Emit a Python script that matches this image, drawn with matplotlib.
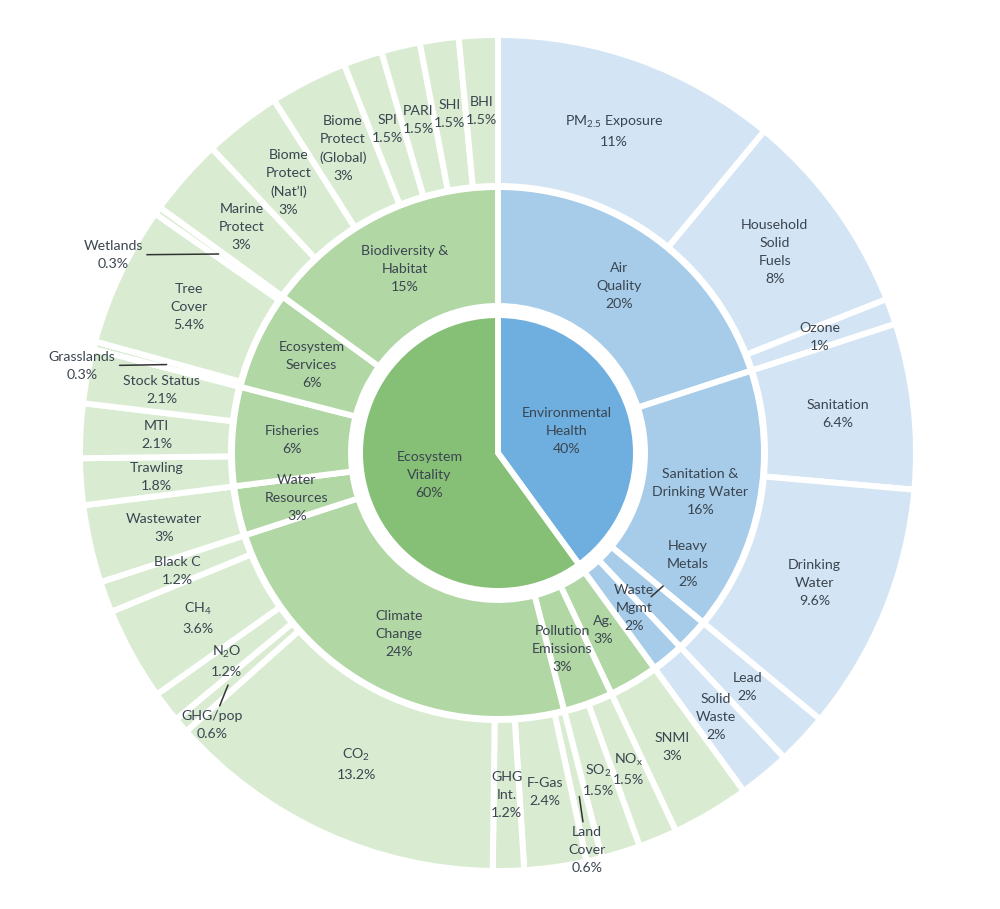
import matplotlib.pyplot as plt
import numpy as np

plt.rcParams['font.family'] = ['Lato', 'DejaVu Sans']
plt.rcParams['mathtext.default'] = 'regular'

# inner ring: policy objectives
objectives = ['Environmental\nHealth', 'Ecosystem\nVitality']
objective_weights = [40, 60]

# middle ring: issue categories
issues = ['Air\nQuality', 'Sanitation &\nDrinking Water', 'Heavy\nMetals', 'Waste\nMgmt',
          'Ag.', 'Pollution\nEmissions', 'Climate\nChange', 'Water\nResources',
          'Fisheries', 'Ecosystem\nServices', 'Biodiversity &\nHabitat']
issue_weights = [20, 16, 2, 2, 3, 3, 24, 3, 6, 6, 15]
issue_group = [0, 0, 0, 0, 1, 1, 1, 1, 1, 1, 1]

# outer ring: indicators
indicators = ['PM$_{2.5}$ Exposure', 'Household\nSolid\nFuels', 'Ozone', 'Sanitation',
              'Drinking\nWater', 'Lead', 'Solid\nWaste', 'SNMI', 'NO$_x$', 'SO$_2$',
              'Land\nCover', 'F-Gas', 'GHG\nInt.', 'CO$_2$', 'GHG/pop', 'N$_2$O', 'CH$_4$',
              'Black C', 'Wastewater', 'Trawling', 'MTI', 'Stock Status', 'Grasslands',
              'Tree\nCover', 'Wetlands', 'Marine\nProtect', 'Biome\nProtect\n(Nat\u2019l)',
              'Biome\nProtect\n(Global)', 'SPI', 'PARI', 'SHI', 'BHI']
indicator_weights = [11, 8, 1, 6.4, 9.6, 2, 2, 3, 1.5, 1.5, 0.6, 2.4, 1.2, 13.2, 0.6, 1.2,
                     3.6, 1.2, 3, 1.8, 2.1, 2.1, 0.3, 5.4, 0.3, 3, 3, 3, 1.5, 1.5, 1.5, 1.5]
indicator_group = [0] * 7 + [1] * 25

blues = ['#6fafdf', '#a6cce9', '#d3e5f4']
greens = ['#86bf76', '#b1d7a4', '#d9ecd2']
text_color = '#3b4550'

# labels pulled off thin slices, with a leader line (pixel position of the text)
callouts = {'Heavy\nMetals': (688, 564, 210), 'Land\nCover': (587, 850, 353),
            'GHG/pop': (212, 725, 356), 'Grasslands': (82, 366, 343),
            'Wetlands': (113, 255, 343)}
# small angular nudges (degrees) where neighbouring labels crowd each other
nudge = {'Pollution\nEmissions': -1.6, 'Waste\nMgmt': 1.6}

cx, cy = 498, 453
fig = plt.figure(figsize=(10, 9.09), dpi=100)
ax = fig.add_axes([0, 0, 1, 1])

wedge_style = dict(edgecolor='white', linewidth=4.3)
font = dict(fontsize=10.2, color=text_color, linespacing=1.6, ha='center', va='center')


def ring(weights, groups, shade, radius, width):
    colors = [[blues, greens][g][shade] for g in groups]
    wedges, _ = ax.pie(weights, radius=radius, colors=colors, startangle=90,
                       counterclock=False,
                       wedgeprops=dict(width=width, **wedge_style))
    return wedges


def label(wedges, names, weights, r):
    for w, name, val in zip(wedges, names, weights):
        mid = np.deg2rad((w.theta1 + w.theta2) / 2 + nudge.get(name, 0))
        text = f'{name}\n{val:g}%'
        if name in callouts:
            tx, ty, rr = callouts[name]
            ax.annotate(text, xy=(rr * np.cos(mid), rr * np.sin(mid)),
                        xytext=(tx - cx, cy - ty), **font,
                        arrowprops=dict(arrowstyle='-', color='#333333', lw=1.1,
                                        shrinkA=1, shrinkB=0))
        else:
            ax.text(r * np.cos(mid), r * np.sin(mid), text, **font)


inner = ring(objective_weights, [0, 1], 0, 138, 138)
middle = ring(issue_weights, issue_group, 1, 266, 119)
outer = ring(indicator_weights, indicator_group, 2, 418, 151)

label(inner, objectives, objective_weights, 72)
label(middle, issues, issue_weights, 206)
label(outer, indicators, indicator_weights, 342)

ax.set_xlim(-cx, 1000 - cx)
ax.set_ylim(-(909 - cy), cy)
ax.set_aspect('equal')
ax.axis('off')

fig.savefig('out.png', dpi=100, facecolor='white')
